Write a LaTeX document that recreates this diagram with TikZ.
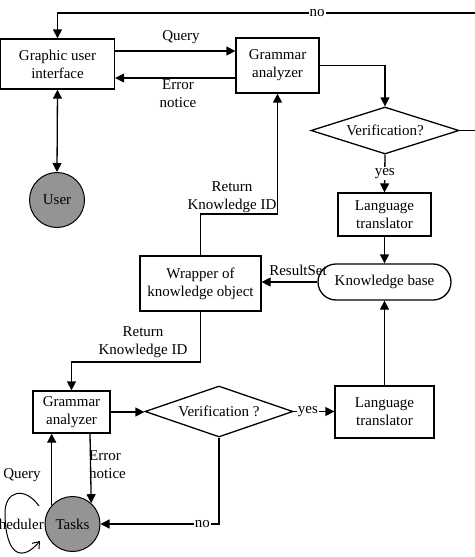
\documentclass[tikz,border=0pt]{standalone}
\usepackage{fontspec}
\setmainfont{Liberation Serif}
\newfontfamily\tnr{Liberation Serif}
\usetikzlibrary{arrows.meta,shapes.geometric,shapes.misc}
\definecolor{cgray}{gray}{0.58}
\begin{document}
\begin{tikzpicture}[x=1pt,y=-1pt,
  every node/.style={font=\tnr\fontsize{15}{18}\selectfont},
  box/.style={draw, line width=1.3pt, align=center, inner sep=0pt},
  dia/.style={draw, diamond, line width=1.3pt, inner sep=0pt, aspect=3},
  kb/.style={draw, rounded rectangle, line width=1.3pt, inner sep=0pt, minimum width=133pt, minimum height=36pt},
  circ/.style={draw, circle, fill=cgray, line width=1pt, minimum size=55pt, inner sep=0pt},
  arr/.style={line width=1.3pt, -{Triangle[length=9pt,width=9pt]}},
  arrb/.style={line width=1.3pt, {Triangle[length=9pt,width=9pt]}-{Triangle[length=9pt,width=9pt]}},
  lbl/.style={fill=white, inner sep=1pt},
  txt/.style={inner sep=0pt, align=center}
]
\useasboundingbox (0,0) rectangle (474,557);

% nodes
\node[box, minimum width=114pt, minimum height=50pt] (GUI) at (57.5,64) {Graphic user\\interface};
\node[box, minimum width=83pt, minimum height=55pt] (GA1) at (277.5,65.5) {Grammar\\analyzer};
\node[dia, minimum width=148pt, minimum height=47pt] (D1) at (385,130.5) {Verification?};
\node[box, minimum width=93pt, minimum height=43pt] (LT1) at (384.5,214.5) {Language\\translator};
\node[kb] (KB) at (384.5,282) {Knowledge base};
\node[box, minimum width=121pt, minimum height=55pt] (WR) at (200.5,283.5) {Wrapper of\\knowledge object};
\node[box, minimum width=77pt, minimum height=42pt] (GA2) at (71.5,412) {Grammar\\analyzer};
\node[dia, minimum width=148pt, minimum height=51pt] (D2) at (219,411.5) {Verification ?};
\node[box, minimum width=99pt, minimum height=52pt] (LT2) at (384.5,412) {Language\\translator};
\node[circ] (User) at (57,200) {User};
\node[circ] (Tasks) at (72.5,524) {Tasks};

% free labels
\node[txt] (lq1) at (181,37) {Query};
\node[txt] (le1) at (178,94) {Error\\notice};
\node[txt] (lr1) at (232,197) {Return\\Knowledge ID};
\node[txt] (lr2) at (143,342) {Return\\Knowledge ID};
\node[txt] (lq2) at (22,475) {Query};
\node[txt, align=left, anchor=west] (le2) at (89,465) {Error\\notice};
\node[txt, anchor=east] (sch) at (44,524) {Scheduler};

% helper coordinates
\coordinate (q1) at (0,51);
\coordinate (q2) at (0,78);
\coordinate (cR1) at (490,130.5);
\coordinate (cR2) at (490,13);
\coordinate (q3) at (240,214);
\coordinate (q4) at (130,362);
\coordinate (q6) at (90,0);
\coordinate (s1) at (39,506);
\coordinate (s2) at (40,541);

% connectors
\draw[arr] (GUI.east |- q1) -- (GA1.west |- q1);
\draw[arr] (GA1.west |- q2) -- (GUI.east |- q2);
\draw[arr] (GA1.east) -| (D1.north);
\draw[arr] (D1.east) -- (cR1) -- (cR2) -| node[lbl, pos=0.2]{no} (GUI.north);
\draw[arrb] (GUI.south) -- (User.north);
\draw[arr] (D1.south) -- node[lbl]{yes} (LT1.north);
\draw[arr] (LT1.south) -- (KB.north);
\draw[arr] (KB.west) -- (KB.west -| WR.east);
\node[txt] (lrs) at (298,270) {ResultSet};
\draw[arr] (WR.north) |- (q3) -| (GA1.south);
\draw[arr] (WR.south) |- (q4) -| (GA2.north);
\draw[arr] (GA2.east) -- (GA2.east -| D2.west);
\draw[arr] (D2.east) -- node[lbl, pos=0.35]{yes} (D2.east -| LT2.west);
\draw[arr] (LT2.north) -- (KB.south);
\draw[arr] (D2.south) |- node[lbl, pos=0.57]{no} (Tasks.east);
\draw[arr] (Tasks.138) -- (Tasks.138 |- GA2.south);
\draw[arr] (GA2.south -| q6) -- (Tasks.48);
\draw[line width=1pt, -{Straight Barb[length=6pt,width=9pt]}] (s1) .. controls (25,486) and (4,490) .. (5,515) .. controls (6,556) and (22,562) .. (s2);
\end{tikzpicture}
\end{document}
